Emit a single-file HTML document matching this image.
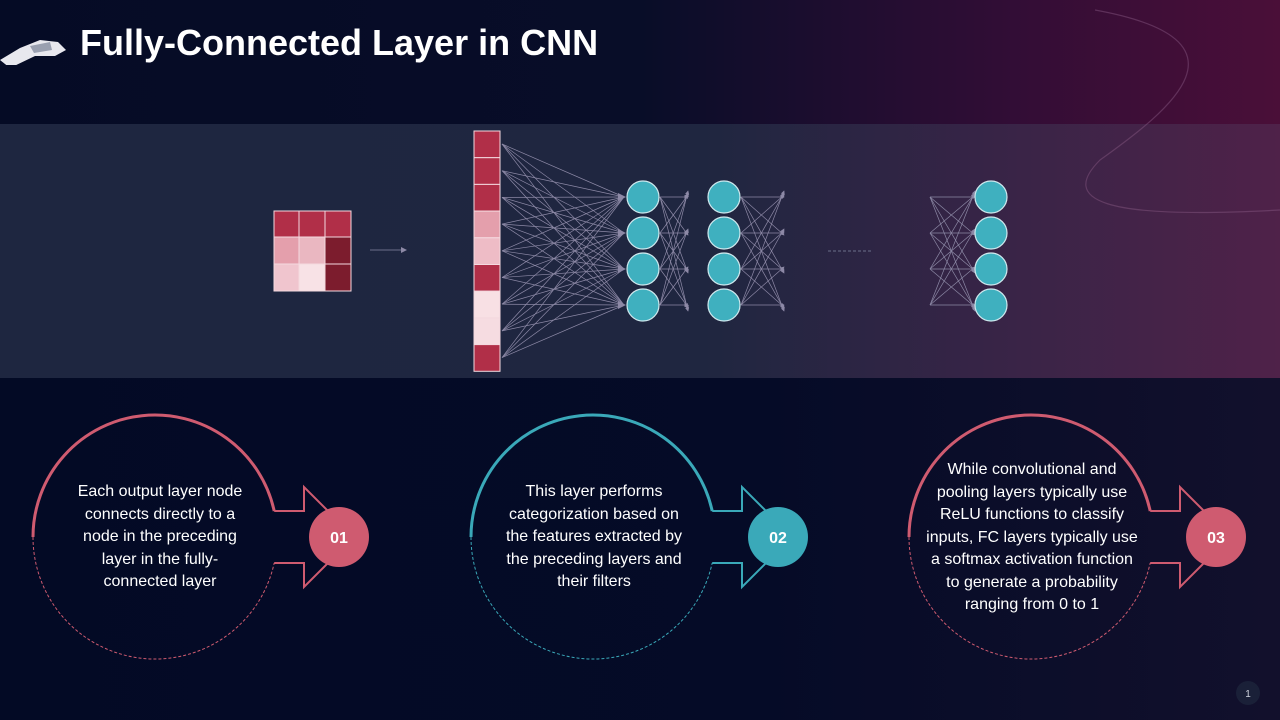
<!DOCTYPE html>
<html><head><meta charset="utf-8"><style>
html,body{margin:0;padding:0;width:1280px;height:720px;overflow:hidden;background:#040b25;font-family:"Liberation Sans",sans-serif}
.t{position:absolute;color:#fff;text-align:center;font-size:16px;line-height:22.5px;white-space:nowrap}
</style></head><body>
<svg id="s" width="1280" height="720" xmlns="http://www.w3.org/2000/svg" style="position:absolute;left:0;top:0">
<defs>
<linearGradient id="top" x1="0" x2="1" y1="0" y2="0">
<stop offset="0" stop-color="#050b25"/><stop offset="0.5" stop-color="#080d28"/><stop offset="0.8" stop-color="#330d36"/><stop offset="1" stop-color="#4a0f38"/></linearGradient>
<linearGradient id="band" x1="0" x2="1" y1="0" y2="0">
<stop offset="0" stop-color="#1e2640"/><stop offset="0.55" stop-color="#1f2640"/><stop offset="0.8" stop-color="#3a2447"/><stop offset="1" stop-color="#4f2249"/></linearGradient>
<linearGradient id="bot" x1="0" x2="1" y1="0" y2="0">
<stop offset="0" stop-color="#030a25"/><stop offset="0.6" stop-color="#050b27"/><stop offset="1" stop-color="#12102c"/></linearGradient>
<marker id="ah" markerWidth="6" markerHeight="6" refX="5" refY="3" orient="auto"><path d="M0,0 L6,3 L0,6z" fill="#8d89a6"/></marker>
</defs>
<rect width="1280" height="124" fill="url(#top)"/>
<rect y="124" width="1280" height="254" fill="url(#band)"/>
<rect y="378" width="1280" height="342" fill="url(#bot)"/>
<path d="M1095,10 C1260,40 1170,110 1100,160 C1060,200 1100,220 1280,210" fill="none" stroke="#8a5a86" stroke-width="1.2" opacity="0.45"/>
<g id="net"></g>
<g stroke="#f4d9df" stroke-width="1">
<rect x="274" y="211" width="25" height="26" fill="#b12f48"/><rect x="299" y="211" width="26" height="26" fill="#b12f48"/><rect x="325" y="211" width="26" height="26" fill="#b12f48"/>
<rect x="274" y="237" width="25" height="27" fill="#e49fac"/><rect x="299" y="237" width="26" height="27" fill="#eab7c1"/><rect x="325" y="237" width="26" height="27" fill="#7c1c2d"/>
<rect x="274" y="264" width="25" height="27" fill="#f0c5ce"/><rect x="299" y="264" width="26" height="27" fill="#f8e2e6"/><rect x="325" y="264" width="26" height="27" fill="#7c1c2d"/>
</g>
<line x1="370" y1="250" x2="406" y2="250" stroke="#6b6f8a" stroke-width="1" marker-end="url(#ah)"/>
<line x1="828" y1="251" x2="873" y2="251" stroke="#6b6f8a" stroke-width="1" stroke-dasharray="3,2"/>
<g id="col" stroke="#f4d9df" stroke-width="1"></g>
<g id="nodes" fill="#3fb0bf" stroke="#cfe9ee" stroke-width="1.2"></g>
<g id="circ"></g>
<circle cx="1248" cy="693" r="12" fill="#1a2038"/>
<text x="1248" y="697" fill="#cfd3de" font-size="10" text-anchor="middle" font-family="Liberation Sans">1</text>
</svg>
<div style="position:absolute;left:0;top:20px;width:70px;height:45px">
<svg width="70" height="45"><path d="M0,40 L20,28 L40,20 L58,22 L66,30 L55,36 L35,36 L10,48z" fill="#e8e8ee"/><path d="M30,26 L50,22 L52,30 L34,33z" fill="#9aa0b0"/></svg></div>
<div style="position:absolute;left:80px;top:22px;color:#fff;font-weight:bold;font-size:36px;font-family:'Liberation Sans',sans-serif">Fully-Connected Layer in CNN</div>
<div class="t" style="left:40px;top:481px;width:240px">Each output layer node<br>connects directly to a<br>node in the preceding<br>layer in the fully-<br>connected layer</div>
<div class="t" style="left:476px;top:481px;width:236px">This layer performs<br>categorization based on<br>the features extracted by<br>the preceding layers and<br>their filters</div>
<div class="t" style="left:909px;top:459px;width:246px">While convolutional and<br>pooling layers typically use<br>ReLU functions to classify<br>inputs, FC layers typically use<br>a softmax activation function<br>to generate a probability<br>ranging from 0 to 1</div>
<script>
var NS="http://www.w3.org/2000/svg";
function el(p,t,a){var e=document.createElementNS(NS,t);for(var k in a)e.setAttribute(k,a[k]);p.appendChild(e);return e;}
var net=document.getElementById('net'),col=document.getElementById('col'),nodes=document.getElementById('nodes'),circ=document.getElementById('circ');
var cols=["#b12f48","#b12f48","#b12f48","#e49fac","#eebcc6","#b12f48","#f8e0e4","#f6dce1","#b12f48"];
var ny=[197,233,269,305];
for(var i=0;i<9;i++){var y=131+i*26.7;el(col,'rect',{x:474,y:y,width:26,height:26.7,fill:cols[i]});
 for(var j=0;j<4;j++)el(net,'line',{x1:502,y1:y+13,x2:624,y2:ny[j],stroke:"#8d89a6","stroke-width":0.7});}
for(var j=0;j<4;j++){el(net,'path',{d:"M618,"+(ny[j]-4)+" L626,"+ny[j]+" L618,"+(ny[j]+4)+"z",fill:"#8d89a6"});}
function fan(x1,x2){for(var a=0;a<4;a++)for(var b=0;b<4;b++)el(net,'line',{x1:x1,y1:ny[a],x2:x2,y2:ny[b]+(b-a)*2,stroke:"#8d89a6","stroke-width":0.7,"marker-end":"url(#ah)"});}
fan(660,688);fan(741,784);fan(930,975);
[643,724,991].forEach(function(x){ny.forEach(function(y){el(nodes,'circle',{cx:x,cy:y,r:16});});});
function C(cx,col,bx,n){var r=122,x0=cx-r,dy=26,xx=cx+Math.sqrt(r*r-dy*dy);
 el(circ,'path',{d:"M"+x0+",537 A"+r+","+r+" 0 0 1 "+xx+","+(537-dy),fill:"none",stroke:col,"stroke-width":3});
 el(circ,'path',{d:"M"+x0+",537 A"+r+","+r+" 0 0 0 "+xx+","+(537+dy),fill:"none",stroke:col,"stroke-width":1,"stroke-dasharray":"3,2"});
 var ax=cx+149;
 el(circ,'path',{d:"M"+xx+",511 L"+ax+",511 L"+ax+",487 L"+(ax+50)+",537 L"+ax+",587 L"+ax+",563 L"+xx+",563",fill:"none",stroke:col,"stroke-width":2});
 el(circ,'circle',{cx:bx,cy:537,r:30,fill:col});
 var t=el(circ,'text',{x:bx,y:543,fill:"#fff","font-size":16,"font-weight":"bold","text-anchor":"middle","font-family":"Liberation Sans"});t.textContent=n;}
C(155,"#cf5b70",339,"01");C(593,"#3aa9b9",778,"02");C(1031,"#cf5b70",1216,"03");
</script>
</body></html>
